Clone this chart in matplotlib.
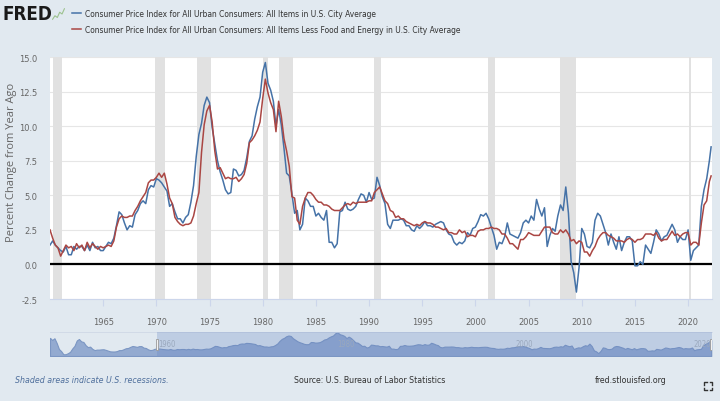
import numpy as np
import pandas as pd
import matplotlib
matplotlib.use("Agg")
import matplotlib.pyplot as plt
import matplotlib.dates as mdates
from matplotlib import font_manager
from matplotlib.patches import Rectangle
from matplotlib.lines import Line2D

# the screenshot text is very condensed, so look for a narrow face
fl = font_manager.fontManager.ttflist
names = {f.name for f in fl}
if 'Liberation Sans Narrow' in names:
    nf = {'family': 'Liberation Sans Narrow', 'stretch': 'normal'}
    scale = 1.0
elif any(f.name == 'DejaVu Sans' and str(f.stretch) in ('condensed', 'semi-condensed') for f in fl):
    nf = {'family': 'DejaVu Sans', 'stretch': 'condensed'}
    scale = 0.95
else:
    nf = {'family': 'Roboto', 'stretch': 'normal'}
    scale = 0.87

# CPI, percent change from year ago, one value per quarter (Jan, Apr, Jul, Oct) 1960-2022
cpi_all = [
    1.4, 1.7, 1.4, 1.2,   1.0, 0.9, 1.3, 0.7,   0.7, 1.3, 1.1, 1.3,   1.3, 1.0, 1.4, 1.0,
    1.6, 1.2, 1.3, 1.0,   1.0, 1.3, 1.6, 1.5,   1.9, 2.8, 3.8, 3.6,   3.0, 2.5, 2.8, 2.7,
    3.6, 3.9, 4.4, 4.6,   4.4, 5.4, 5.7, 5.6,   6.2, 6.1, 5.9, 5.6,   5.3, 4.2, 4.4, 3.8,
    3.3, 3.3, 3.0, 3.4,   3.6, 4.5, 5.7, 7.8,   9.4, 10.2, 11.5, 12.1,   11.7, 9.9, 8.7, 7.5,
    6.7, 6.1, 5.4, 5.1,   5.2, 6.9, 6.8, 6.4,   6.5, 6.8, 7.7, 8.9,   9.3, 10.5, 11.4, 12.1,
    13.9, 14.6, 13.1, 12.6,   11.8, 10.0, 11.2, 10.1,   8.4, 6.6, 6.4, 5.1,   3.7, 3.9, 2.5, 2.9,
    4.8, 4.6, 4.2, 4.2,   3.5, 3.7, 3.4, 3.2,   3.9, 1.6, 1.6, 1.2,   1.5, 3.8, 3.9, 4.5,
    4.0, 3.9, 4.0, 4.2,   4.7, 5.1, 5.0, 4.5,   5.2, 4.7, 4.8, 6.3,   5.7, 4.9, 4.4, 2.9,
    2.6, 3.2, 3.2, 3.2,   3.3, 3.2, 2.8, 2.8,   2.5, 2.4, 2.8, 2.6,   2.8, 3.1, 2.8, 2.8,
    2.7, 2.9, 3.0, 3.1,   3.0, 2.5, 2.2, 2.1,   1.6, 1.4, 1.6, 1.5,   1.7, 2.3, 2.1, 2.6,
    2.7, 3.1, 3.6, 3.5,   3.7, 3.3, 2.7, 2.1,   1.1, 1.6, 1.5, 2.0,   3.0, 2.2, 2.1, 2.0,
    1.9, 2.3, 3.0, 3.2,   3.0, 3.5, 3.2, 4.7,   4.0, 3.5, 4.1, 1.3,   2.1, 2.6, 2.4, 3.5,
    4.3, 3.9, 5.6, 3.7,   0.2, -0.6, -2.0, -0.2,   2.6, 2.2, 1.3, 1.2,   1.6, 3.2, 3.7, 3.5,
    2.9, 2.3, 1.4, 2.2,   1.6, 1.1, 2.0, 1.0,   1.6, 2.0, 2.0, 1.7,   -0.1, -0.1, 0.2, 0.0,
    1.4, 1.1, 0.8, 1.6,   2.5, 2.2, 1.7, 2.0,   2.1, 2.5, 2.9, 2.5,   1.6, 2.0, 1.8, 1.8,
    2.5, 0.3, 1.0, 1.2,   1.4, 4.2, 5.4, 6.2,   7.5, 8.5,
]
cpi_core = [
    2.5, 1.9, 1.4, 1.2,   0.6, 1.0, 1.4, 1.2,   1.3, 1.0, 1.5, 1.2,   1.4, 1.0, 1.6, 1.2,
    1.5, 1.3, 1.1, 1.3,   1.2, 1.3, 1.4, 1.3,   1.7, 2.7, 3.3, 3.5,   3.4, 3.4, 3.5, 3.5,
    3.9, 4.2, 4.6, 4.9,   5.2, 5.9, 6.1, 6.1,   6.3, 6.6, 6.3, 6.6,   5.8, 4.8, 4.4, 3.4,
    3.1, 2.9, 2.8, 2.9,   2.9, 3.0, 3.5, 4.4,   5.2, 8.1, 10.1, 11.1,   11.5, 10.3, 8.2, 6.9,
    7.0, 6.6, 6.2, 6.3,   6.2, 6.2, 6.3, 6.0,   6.2, 6.5, 7.3, 8.8,   9.0, 9.3, 9.7, 10.3,
    12.0, 13.4, 12.4, 11.7,   11.2, 9.6, 11.8, 10.7,   9.1, 8.2, 7.1, 4.9,   4.8, 3.2, 2.9, 4.2,
    4.8, 5.2, 5.2, 5.0,   4.7, 4.5, 4.5, 4.3,   4.3, 4.2, 4.0, 3.9,   3.9, 3.9, 4.1, 4.3,
    4.4, 4.3, 4.5, 4.4,   4.5, 4.5, 4.5, 4.5,   4.6, 4.6, 5.2, 5.4,   5.6, 5.1, 4.6, 4.4,
    3.9, 3.8, 3.4, 3.5,   3.3, 3.3, 3.1, 3.0,   2.9, 2.8, 2.9, 2.8,   3.0, 3.1, 3.0, 3.0,
    2.9, 2.7, 2.7, 2.6,   2.5, 2.6, 2.3, 2.3,   2.2, 2.2, 2.5, 2.3,   2.4, 2.0, 2.1, 2.1,
    2.0, 2.4, 2.5, 2.5,   2.6, 2.6, 2.7, 2.6,   2.6, 2.5, 2.2, 2.2,   1.9, 1.5, 1.5, 1.3,
    1.1, 1.8, 1.8, 2.0,   2.3, 2.2, 2.1, 2.1,   2.1, 2.4, 2.7, 2.7,   2.7, 2.3, 2.2, 2.2,
    2.5, 2.3, 2.5, 2.2,   1.7, 1.8, 1.5, 1.7,   1.6, 0.9, 0.9, 0.6,   1.0, 1.3, 1.8, 2.1,
    2.3, 2.3, 2.1, 2.0,   1.9, 1.7, 1.7, 1.7,   1.6, 1.8, 1.9, 1.8,   1.6, 1.8, 1.8, 1.9,
    2.2, 2.2, 2.2, 2.1,   2.3, 1.9, 1.7, 1.8,   1.8, 2.1, 2.4, 2.1,   2.2, 2.0, 2.2, 2.3,
    2.3, 1.4, 1.6, 1.6,   1.4, 3.0, 4.3, 4.6,   6.0, 6.4,
]
dates = list(pd.date_range('1960-01-01', '2022-01-01', freq='3MS')) + [pd.Timestamp('2022-03-01')]

# all items series before 1960, only seen in the navigator strip
nav_early = [
    10.2, 8.5, 9.9, 6.1,   1.3, -0.4, -2.9, -2.9,   -2.1, -1.0, 1.7, 3.8,   8.1, 9.3, 7.4, 6.9,
    4.3, 2.8, 3.2, 1.4,   0.4, 0.8, 0.8, 1.0,   1.1, 0.6, 0.0, -0.6,   -0.7, -0.7, -0.4, 0.4,
    0.4, 1.1, 1.9, 2.1,   3.0, 3.7, 3.4, 3.0,   3.6, 3.6, 2.4, 2.1,   1.0, 0.4, 0.7, 1.5,
]
nav_early_dates = list(pd.date_range('1948-01-01', '1959-10-01', freq='3MS'))

recessions = [
    ('1960-04-01', '1961-02-01'), ('1969-12-01', '1970-11-01'), ('1973-11-01', '1975-03-01'),
    ('1980-01-01', '1980-07-01'), ('1981-07-01', '1982-11-01'), ('1990-07-01', '1991-03-01'),
    ('2001-03-01', '2001-11-01'), ('2007-12-01', '2009-06-01'), ('2020-02-01', '2020-04-01'),
]
tick_years = [1965, 1970, 1975, 1980, 1985, 1990, 1995, 2000, 2005, 2010, 2015, 2020]
y_ticks = [-2.5, 0.0, 2.5, 5.0, 7.5, 10.0, 12.5, 15.0]
nav_years = [1960, 1980, 2000, 2020]

label_all = 'Consumer Price Index for All Urban Consumers: All Items in U.S. City Average'
label_core = 'Consumer Price Index for All Urban Consumers: All Items Less Food and Energy in U.S. City Average'

bg = '#e1e9f0'
blue = '#4572a7'
red = '#aa4643'
W, H = 720, 402

fig = plt.figure(figsize=(7.2, 4.02), dpi=100, facecolor=bg)

# main plot
ax = fig.add_axes([50 / W, 1 - 300 / H, 662 / W, 242 / H])
ax.set_facecolor('white')
for a, b in recessions:
    ax.axvspan(pd.Timestamp(a), pd.Timestamp(b), color='#e1e1e1', lw=0, zorder=1)
for v in y_ticks:
    ax.axhline(v, color='#e6e6e6', lw=0.8, zorder=0.5)
ax.axhline(0, color='black', lw=1.6, zorder=2)
l1, = ax.plot(dates, cpi_all, color=blue, lw=1.1, zorder=3)
l2, = ax.plot(dates, cpi_core, color=red, lw=1.1, zorder=4)

ax.set_xlim(pd.Timestamp('1960-01-01'), pd.Timestamp('2022-04-01'))
ax.set_ylim(-2.5, 15)
ax.set_yticks(y_ticks)
ax.set_yticklabels(['%.1f' % v for v in y_ticks], family=nf['family'], fontstretch=nf['stretch'],
                   fontsize=7 * scale, color='#666666')
ax.set_xticks([pd.Timestamp('%d-01-01' % y) for y in tick_years])
ax.set_xticklabels([str(y) for y in tick_years], family=nf['family'], fontstretch=nf['stretch'],
                   fontsize=7 * scale, color='#666666')
ax.tick_params(axis='y', length=0, pad=9)
ax.tick_params(axis='x', length=5, color='#ccd6eb', pad=8)
for s in ['top', 'right', 'left']:
    ax.spines[s].set_visible(False)
ax.spines['bottom'].set_color('#ccd6eb')

fig.text(12 / W, 1 - 162 / H, 'Percent Change from Year Ago', rotation=90,
         ha='center', va='center', fontsize=8, color='#666666', family='Open Sans')

# navigator strip
nav = fig.add_axes([50 / W, 1 - 357 / H, 662 / W, 24 / H])
nav.set_facecolor(bg)
nav.fill_between(nav_early_dates + dates, -4.3, nav_early + cpi_all,
                 color='#93aad0', lw=0.8, edgecolor='#7b96c3')
nav.set_xlim(pd.Timestamp('1948-01-01'), pd.Timestamp('2022-04-01'))
nav.set_ylim(-4.3, 14.9)
sel0 = mdates.date2num(pd.Timestamp('1960-01-01'))
sel1 = mdates.date2num(pd.Timestamp('2022-04-01'))
nav.add_patch(Rectangle((sel0, -4.3), sel1 - sel0, 19.2,
                        color=(102 / 255, 133 / 255, 194 / 255, 0.28), lw=0, zorder=3))
for y in nav_years:
    nav.text(pd.Timestamp('%d-03-01' % y), 6.0, str(y), fontsize=5.5, color='#9aa8bd',
             family=nf['family'], fontstretch=nf['stretch'], va='center', zorder=4)
for d in ['1960-01-01', '2022-03-20']:
    nav.add_patch(Rectangle((mdates.date2num(pd.Timestamp(d)) - 60, 0.5), 120, 9,
                            facecolor='#f2f2f2', edgecolor='#999999', lw=0.6, zorder=5))
nav.set_xticks([])
nav.set_yticks([])
for s in ['right', 'left', 'bottom']:
    nav.spines[s].set_visible(False)
nav.spines['top'].set_color('#cfd8e6')
nav.spines['top'].set_linewidth(0.6)

# header: FRED mark and legend
fig.text(3 / W, 1 - 14 / H, 'FRED', fontsize=13.5, fontweight='bold', family=nf['family'],
         fontstretch=nf['stretch'], color='#1a1a1a', va='center', ha='left')
icon_vals = [0.5, 1.5, 1.0, 2.5, 2.0, 3.5]
icon = fig.add_axes([52 / W, 1 - 22 / H, 13 / W, 14 / H])
icon.plot(range(len(icon_vals)), icon_vals, color='#9cc28f', lw=0.8)
icon.set_ylim(0, 4)
icon.axis('off')

fig.legend(handles=[l1, l2], labels=[label_all, label_core], loc='upper left',
           bbox_to_anchor=(72 / W, 1 - 10 / H), frameon=False, handlelength=1.1,
           handletextpad=0.45, labelspacing=0.85, borderaxespad=0, borderpad=0,
           prop={'family': nf['family'], 'stretch': nf['stretch'], 'size': 6.0},
           labelcolor='#333333')

# footer
fs = 6.3
fig.text(15 / W, 1 - 381 / H, 'Shaded areas indicate U.S. recessions.', fontsize=fs,
         style='italic', color='#4f6f9c', family=nf['family'], fontstretch=nf['stretch'], va='center')
fig.text(370 / W, 1 - 381 / H, 'Source: U.S. Bureau of Labor Statistics', fontsize=fs,
         color='#333333', family=nf['family'], fontstretch=nf['stretch'], va='center', ha='center')
fig.text(631 / W, 1 - 381 / H, 'fred.stlouisfed.org', fontsize=fs,
         color='#333333', family=nf['family'], fontstretch=nf['stretch'], va='center', ha='center')

# little expand icon bottom right
cx, cy, r, k = 708, 387, 4, 2.5
for sx in (-1, 1):
    for sy in (-1, 1):
        px, py = cx + sx * r, cy + sy * r
        fig.add_artist(Line2D([px / W, px / W, (px - sx * k) / W],
                              [1 - (py - sy * k) / H, 1 - py / H, 1 - py / H],
                              color='#333333', lw=1.0))

fig.savefig('out.png', dpi=100, facecolor=bg)
